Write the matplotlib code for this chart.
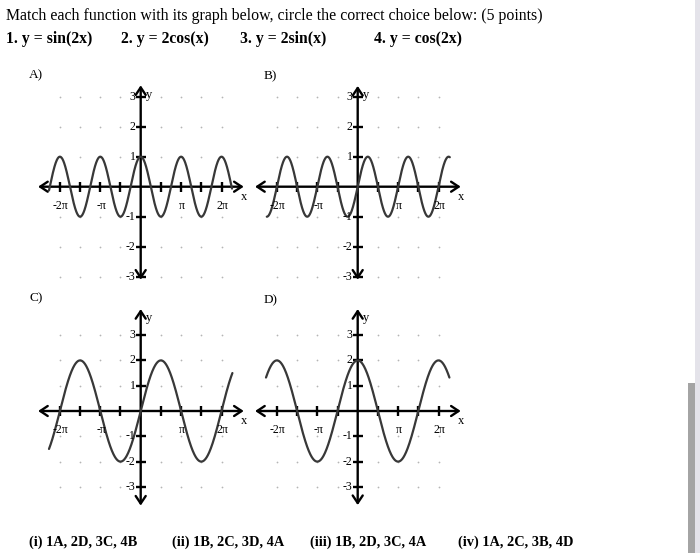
import numpy as np
import matplotlib
matplotlib.use("Agg")
import matplotlib.pyplot as plt
from matplotlib.patches import Rectangle

plt.rcParams['font.family'] = ['Liberation Serif', 'DejaVu Serif']

# ---------------- data ----------------
panel_labels = ['A)', 'B)', 'C)', 'D)']
amplitudes = [1, 1, 2, 2]
frequencies = [2, 2, 1, 1]
wave_kinds = ['cos', 'sin', 'sin', 'cos']
domain_lo = [-2.27, -2.25, -2.27, -2.27]   # in units of pi
domain_hi = [2.26, 2.28, 2.27, 2.27]       # in units of pi
x_tick_halfpi = [-4, -3, -2, -1, 1, 2, 3, 4]     # multiples of pi/2
x_label_pos = [-2, -1, 1, 2]                      # multiples of pi
x_label_text = ['-2π', '-π', 'π', '2π']
y_ticks = [-3, -2, -1, 1, 2, 3]
y_tick_text = ['-3', '-2', '-1', '1', '2', '3']

header_line = "Match each function with its graph below, circle the correct choice below: (5 points)"
function_items = ["1. y = sin(2x)", "2. y = 2cos(x)", "3. y = 2sin(x)", "4. y = cos(2x)"]
choice_items = ["(i) 1A, 2D, 3C, 4B", "(ii) 1B, 2C, 3D, 4A", "(iii) 1B, 2D, 3C, 4A", "(iv) 1A, 2C, 3B, 4D"]

# ---------------- layout (pixels) ----------------
W, H = 700, 553
fig = plt.figure(figsize=(W / 100, H / 100), dpi=100)
fig.patch.set_facecolor('white')

PX_PER_PI = 40.4
origins = [(140.7, 186.7), (357.7, 186.7), (140.7, 411.0), (357.7, 411.0)]
y_scales = [30.0, 30.0, 25.3, 25.3]
y_axis_ext = [(-3.1, 3.38), (-3.1, 3.36), (-3.74, 4.03), (-3.72, 4.03)]
x_axis_ext = (-2.54 * np.pi, 2.55 * np.pi)
label_pos_px = [(36, 75), (270, 76), (36, 298), (271, 300)]
y_letter_top = [3.05, 3.05, 3.66, 3.66]

curve_color = '#383838'
dot_color = '#b5b5b5'
arrow_style = '<->,head_length=0.45,head_width=0.3'

for i in range(4):
    ox, oy = origins[i]
    sx = PX_PER_PI / np.pi
    sy = y_scales[i]
    xlim = (x_axis_ext[0] - 0.3, x_axis_ext[1] + 0.3)
    ylim = (y_axis_ext[i][0] - 0.3, y_axis_ext[i][1] + 0.3)
    left = ox + xlim[0] * sx
    right = ox + xlim[1] * sx
    top = oy - ylim[1] * sy
    bottom = oy - ylim[0] * sy
    ax = fig.add_axes([left / W, 1 - bottom / H, (right - left) / W, (bottom - top) / H])
    ax.set_xlim(xlim)
    ax.set_ylim(ylim)
    ax.axis('off')

    # grid dots
    gx = np.array(x_tick_halfpi) * np.pi / 2
    gy = np.array(y_ticks)
    GX, GY = np.meshgrid(gx, gy)
    ax.scatter(GX.ravel(), GY.ravel(), s=1.6, color=dot_color, zorder=1, linewidths=0)

    # axes with open arrowheads
    ax.annotate('', xy=(x_axis_ext[1], 0), xytext=(x_axis_ext[0], 0),
                arrowprops=dict(arrowstyle=arrow_style, lw=1.7, color='black',
                                shrinkA=0, shrinkB=0, mutation_scale=12),
                zorder=3)
    ax.annotate('', xy=(0, y_axis_ext[i][1]), xytext=(0, y_axis_ext[i][0]),
                arrowprops=dict(arrowstyle=arrow_style, lw=1.7, color='black',
                                shrinkA=0, shrinkB=0, mutation_scale=12),
                zorder=3)

    # tick marks
    ax.plot(gx, np.zeros_like(gx), ls='none', marker='|', ms=6.5, mew=1.7, color='black', zorder=3)
    ax.plot(np.zeros_like(gy), gy, ls='none', marker='_', ms=6.5, mew=1.7, color='black', zorder=3)

    # curve
    x = np.linspace(domain_lo[i] * np.pi, domain_hi[i] * np.pi, 800)
    f = np.cos if wave_kinds[i] == 'cos' else np.sin
    y = amplitudes[i] * f(frequencies[i] * x)
    ax.plot(x, y, color=curve_color, lw=1.6, zorder=4, solid_capstyle='round')

    # x tick labels
    for p, t in zip(x_label_pos, x_label_text):
        ax.annotate(t, xy=(p * np.pi, 0), xytext=(1, -19), textcoords='offset pixels',
                    ha='center', va='center', fontsize=8.5, zorder=5)
    # y tick labels
    for v, t in zip(y_ticks, y_tick_text):
        ax.annotate(t, xy=(0, v), xytext=(-5, 0), textcoords='offset pixels',
                    ha='right', va='center', fontsize=8.5, zorder=5)
    # axis letters
    ax.annotate('x', xy=(x_axis_ext[1], 0), xytext=(0, -10), textcoords='offset pixels',
                ha='center', va='center', fontsize=9)
    ax.annotate('y', xy=(0, y_letter_top[i]), xytext=(8, 0), textcoords='offset pixels',
                ha='center', va='center', fontsize=9)

    fig.text(label_pos_px[i][0] / W, 1 - label_pos_px[i][1] / H, panel_labels[i],
             ha='center', va='center', fontsize=9.5)

# header
fig.text(6 / W, 1 - 20 / H, header_line, ha='left', va='baseline', fontsize=11.4)
item_x = [6, 120.7, 240, 374]
for xp, t in zip(item_x, function_items):
    fig.text(xp / W, 1 - 43 / H, t, ha='left', va='baseline', fontsize=11.3, fontweight='bold')

# bottom choices
choice_x = [29.3, 172, 310, 457.6]
for xp, t in zip(choice_x, choice_items):
    fig.text(xp / W, 1 - 546 / H, t, ha='left', va='baseline', fontsize=10.4, fontweight='bold')

# scrollbar decoration
fig.patches.append(Rectangle((695 / W, 0), 5 / W, 1, transform=fig.transFigure,
                             facecolor='#e4e3ea', edgecolor='none'))
fig.patches.append(Rectangle((688 / W, 0), 6.5 / W, (553 - 383) / H, transform=fig.transFigure,
                             facecolor='#a4a4a4', edgecolor='none'))

fig.savefig('out.png', dpi=100, facecolor='white')
